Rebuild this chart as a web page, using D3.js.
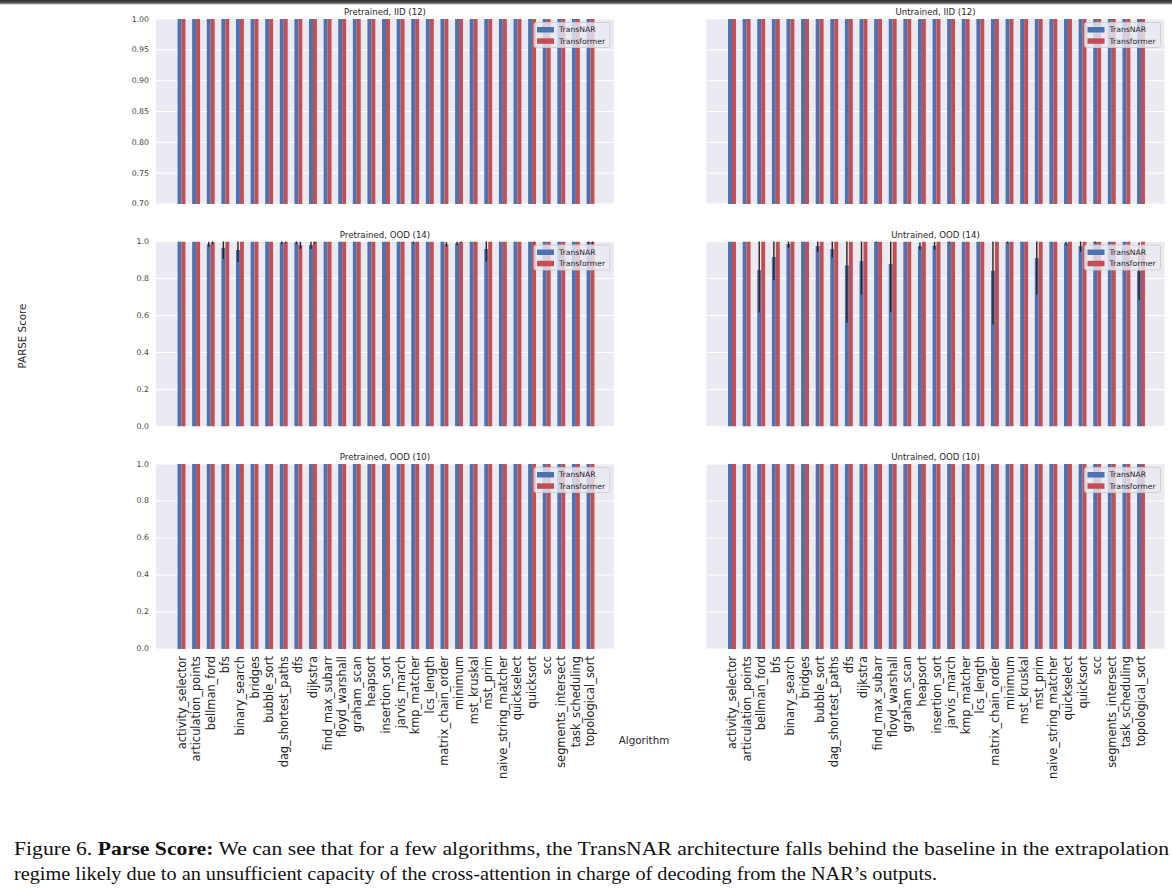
<!DOCTYPE html>
<html>
<head>
<meta charset="utf-8">
<script src="https://cdn.jsdelivr.net/npm/d3@7/dist/d3.min.js"></script>
<style>
  html, body { margin: 0; padding: 0; background: #ffffff; }
  svg { display: block; }
</style>
</head>
<body>
<svg id="chart" width="1172" height="891"></svg>
<script>
// ---------------- DATA ----------------
const algorithms = ["activity_selector","articulation_points","bellman_ford","bfs","binary_search","bridges","bubble_sort","dag_shortest_paths","dfs","dijkstra","find_max_subarr","floyd_warshall","graham_scan","heapsort","insertion_sort","jarvis_march","kmp_matcher","lcs_length","matrix_chain_order","minimum","mst_kruskal","mst_prim","naive_string_matcher","quickselect","quicksort","scc","segments_intersect","task_scheduling","topological_sort"];
const seriesNames = ["TransNAR", "Transformer"];

const perfectScores = [1,1,1,1,1,1,1,1,1,1,1,1,1,1,1,1,1,1,1,1,1,1,1,1,1,1,1,1,1];
const noError       = [0,0,0,0,0,0,0,0,0,0,0,0,0,0,0,0,0,0,0,0,0,0,0,0,0,0,0,0,0];

// Pretrained, OOD (14)
const preOOD14TransNAR      = [1,1,0.985,0.966,0.954,1,1,0.995,0.995,0.98,1,1,1,1,1,1,0.997,1,1,0.99,1,0.96,1,1,1,1,1,1,0.997];
const preOOD14TransNARErr   = [0,0,0.015,0.06,0.065,0,0,0.008,0.01,0.02,0,0,0,0,0,0,0.008,0,0,0.01,0,0.07,0,0,0,0,0,0,0.008];
const preOOD14Transformer   = [1,1,0.995,1,1,1,1,0.997,0.98,0.997,1,1,1,1,1,1,1,1,0.985,0.997,1,1,1,1,0.997,1,1,1,0.997];
const preOOD14TransformerErr= [0,0,0.01,0,0,0,0,0.005,0.02,0.008,0,0,0,0,0,0,0,0,0.012,0.005,0,0,0,0,0.005,0,0,0,0.008];

// Untrained, OOD (14)
const untOOD14TransNAR      = [1,1,0.846,0.916,0.986,1,0.975,0.959,0.871,0.894,0.998,0.878,1,0.975,0.977,0.998,1,1,0.842,0.997,1,0.91,1,0.99,0.975,0.998,1,1,0.84];
const untOOD14TransNARErr   = [0,0,0.23,0.125,0.02,0,0.03,0.045,0.31,0.18,0.005,0.26,0,0.02,0.022,0.005,0,0,0.29,0.006,0,0.195,0,0.01,0.03,0.005,0,0,0.155];

const yTicksIID = [0.70,0.75,0.80,0.85,0.90,0.95,1.00];
const yTicksOOD = [0.0,0.2,0.4,0.6,0.8,1.0];

const panels = [
  {title:"Pretrained, IID (12)", row:0, col:0, a:perfectScores, aErr:noError, b:perfectScores, bErr:noError, domain:[0.7,1.0], ticks:yTicksIID, fmt:".2f"},
  {title:"Untrained, IID (12)",  row:0, col:1, a:perfectScores, aErr:noError, b:perfectScores, bErr:noError, domain:[0.7,1.0], ticks:yTicksIID, fmt:".2f"},
  {title:"Pretrained, OOD (14)", row:1, col:0, a:preOOD14TransNAR, aErr:preOOD14TransNARErr, b:preOOD14Transformer, bErr:preOOD14TransformerErr, domain:[0,1], ticks:yTicksOOD, fmt:".1f"},
  {title:"Untrained, OOD (14)",  row:1, col:1, a:untOOD14TransNAR, aErr:untOOD14TransNARErr, b:perfectScores, bErr:noError, domain:[0,1], ticks:yTicksOOD, fmt:".1f"},
  {title:"Pretrained, OOD (10)", row:2, col:0, a:perfectScores, aErr:noError, b:perfectScores, bErr:noError, domain:[0,1], ticks:yTicksOOD, fmt:".1f"},
  {title:"Untrained, OOD (10)",  row:2, col:1, a:perfectScores, aErr:noError, b:perfectScores, bErr:noError, domain:[0,1], ticks:yTicksOOD, fmt:".1f"}
];

// ---------------- STYLE / LAYOUT ----------------
const colors = {TransNAR:"#4c72b0", Transformer:"#c44e52"};
const W = 458, H = 185;
const colX = [156, 706.5];
const rowY = [19, 241.5, 464];
const font = "'DejaVu Sans', sans-serif";

const svg = d3.select("#chart");

// top dark band (page edge)
const defs = svg.append("defs");
const grad = defs.append("linearGradient").attr("id","topband").attr("x1",0).attr("y1",0).attr("x2",0).attr("y2",1);
grad.append("stop").attr("offset","0%").attr("stop-color","#2e2e2e");
grad.append("stop").attr("offset","60%").attr("stop-color","#5a5a5a");
grad.append("stop").attr("offset","100%").attr("stop-color","#ffffff");
svg.append("rect").attr("x",0).attr("y",0).attr("width",1172).attr("height",5).attr("fill","url(#topband)");

const x = d3.scaleBand().domain(algorithms).range([18.2, 441.8]).padding(0);
const bw = x.bandwidth() * 0.27;

panels.forEach((p, i) => {
  const g = svg.append("g").attr("transform", `translate(${colX[p.col]},${rowY[p.row]})`);
  const y = d3.scaleLinear().domain(p.domain).range([H, 0]);

  const clipId = "clip" + i;
  defs.append("clipPath").attr("id", clipId).append("rect").attr("x",0).attr("y",0).attr("width",W).attr("height",H);

  g.append("rect").attr("width", W).attr("height", H).attr("fill", "#eaeaf2");

  // grid
  g.selectAll(".grid").data(p.ticks).enter().append("line")
    .attr("x1",0).attr("x2",W)
    .attr("y1", d => y(d)).attr("y2", d => y(d))
    .attr("stroke","#ffffff").attr("stroke-width",1);

  const body = g.append("g").attr("clip-path", `url(#${clipId})`);
  const base = y(Math.min(0, p.domain[0]));
  const series = [
    {name:"TransNAR", vals:p.a, errs:p.aErr, off:-bw},
    {name:"Transformer", vals:p.b, errs:p.bErr, off:0}
  ];
  series.forEach(s => {
    body.selectAll(null).data(algorithms).enter().append("rect")
      .attr("x", (d) => x(d) + x.bandwidth()/2 + s.off)
      .attr("width", bw)
      .attr("y", (d, j) => y(s.vals[j]))
      .attr("height", (d, j) => base - y(s.vals[j]))
      .attr("fill", colors[s.name]);
  });
  series.forEach(s => {
    body.selectAll(null).data(algorithms.filter((d, j) => s.errs[j] > 0)).enter().append("line")
      .attr("x1", d => x(d) + x.bandwidth()/2 + s.off + bw/2)
      .attr("x2", d => x(d) + x.bandwidth()/2 + s.off + bw/2)
      .attr("y1", d => { const j = algorithms.indexOf(d); return y(s.vals[j] + s.errs[j]); })
      .attr("y2", d => { const j = algorithms.indexOf(d); return y(s.vals[j] - s.errs[j]); })
      .attr("stroke", "#262626").attr("stroke-width", 1.4);
  });

  // title
  g.append("text").attr("x", W/2).attr("y", -4).attr("text-anchor","middle")
    .attr("font-family", font).attr("font-size", 8.6).attr("fill","#262626").text(p.title);

  // y axis labels (left column only)
  if (p.col === 0) {
    g.selectAll(".yl").data(p.ticks).enter().append("text")
      .attr("x", -7).attr("y", d => y(d)).attr("dy","0.32em")
      .attr("text-anchor","end").attr("font-family", font).attr("font-size", 7.8)
      .attr("fill","#444").text(d => d3.format(p.fmt)(d));
  }

  // x axis labels (bottom row)
  if (p.row === 2) {
    g.selectAll(".xl").data(algorithms).enter().append("text")
      .attr("transform", d => `translate(${x(d) + x.bandwidth()/2},${H + 7}) rotate(-90)`)
      .attr("dy","0.35em").attr("text-anchor","end")
      .attr("font-family", font).attr("font-size", 11.4).attr("fill","#262626").text(d => d);
  }

  // legend
  const lg = g.append("g").attr("transform", `translate(${W - 80},3.5)`);
  lg.append("rect").attr("width",76).attr("height",25).attr("rx",2)
    .attr("fill","#eaeaf2").attr("fill-opacity",0.8).attr("stroke","#cccccc").attr("stroke-width",0.8);
  seriesNames.forEach((n, k) => {
    lg.append("rect").attr("x",3).attr("y", 4.5 + k*11.3).attr("width",17).attr("height",5.5).attr("fill", colors[n]);
    lg.append("text").attr("x",25).attr("y", 7.3 + k*11.3).attr("dy","0.35em")
      .attr("font-family", font).attr("font-size", 7.7).attr("fill","#262626").text(n);
  });
});

// axis titles
svg.append("text").attr("transform","translate(26,336) rotate(-90)").attr("text-anchor","middle")
  .attr("font-family", font).attr("font-size", 10.3).attr("fill","#262626").text("PARSE Score");
svg.append("text").attr("x", 644).attr("y", 744).attr("text-anchor","middle")
  .attr("font-family", font).attr("font-size", 10.3).attr("fill","#262626").text("Algorithm");

// caption
const cap = svg.append("g").attr("font-family","'Liberation Serif', 'Times New Roman', serif").attr("font-size",19).attr("fill","#111");
const l1 = cap.append("text").attr("x",14).attr("y",855).attr("textLength",1155).attr("lengthAdjust","spacingAndGlyphs");
l1.append("tspan").text("Figure 6.  ");
l1.append("tspan").attr("font-weight","bold").text("Parse Score:");
l1.append("tspan").text(" We can see that for a few algorithms, the TransNAR architecture falls behind the baseline in the extrapolation");
cap.append("text").attr("x",14).attr("y",880).attr("textLength",923).attr("lengthAdjust","spacingAndGlyphs")
  .text("regime likely due to an unsufficient capacity of the cross-attention in charge of decoding from the NAR\u2019s outputs.");
</script>
</body>
</html>
